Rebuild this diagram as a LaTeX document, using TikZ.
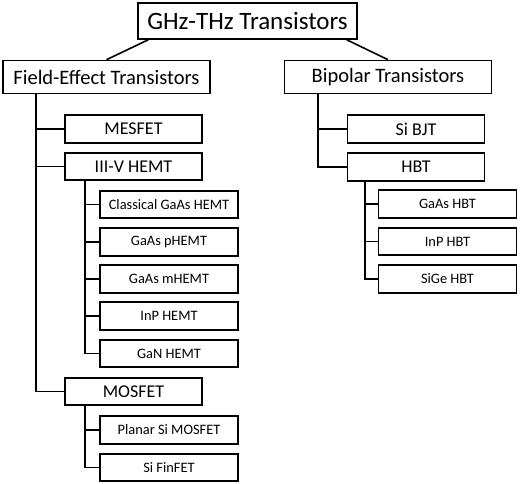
\documentclass[tikz,border=0pt]{standalone}
\usepackage{fontspec}
\setmainfont{Carlito}
\usetikzlibrary{calc}
\begin{document}
\begin{tikzpicture}[x=1pt,y=-1pt,
  box/.style={draw,line width=1.6pt,rectangle,inner sep=0pt,anchor=center},
  lv0/.style={box,minimum width=219pt,minimum height=36pt,font=\fontsize{25}{28}\selectfont},
  lv1/.style={box,minimum width=207pt,minimum height=33pt,font=\fontsize{20.5}{23}\selectfont},
  lv2/.style={box,minimum width=137pt,minimum height=27.5pt,font=\fontsize{18}{20}\selectfont},
  lv3/.style={box,minimum width=138pt,minimum height=27.5pt,font=\fontsize{14.4}{17}\selectfont},
  conn/.style={line width=1.6pt}]
\useasboundingbox (0,0) rectangle (520,484);
\node[lv0] (top) at (247.5,21) {GHz-THz Transistors};
\node[lv1] (fet) at (106.5,77) {Field-Effect Transistors};
\node[lv1] (bip) at (388,77) {Bipolar Transistors};
\node[lv2] (mesfet) at (133.5,129) {MESFET};
\node[lv2] (iiiv) at (133.5,166.5) {III-V HEMT};
\node[lv3] (classical) at (169,204.5) {Classical GaAs HEMT};
\node[lv3] (phemt) at (169,242) {GaAs pHEMT};
\node[lv3] (mhemt) at (169,279) {GaAs mHEMT};
\node[lv3] (inp) at (169,316) {InP HEMT};
\node[lv3] (gan) at (169,353.5) {GaN HEMT};
\node[lv2] (mosfet) at (133.5,391.5) {MOSFET};
\node[lv3] (planar) at (169,430) {Planar Si MOSFET};
\node[lv3] (finfet) at (169,467.5) {Si FinFET};
\node[lv2] (sibjt) at (416,129) {Si BJT};
\node[lv2] (hbt) at (416,167) {HBT};
\node[lv3] (gaashbt) at (447.5,204) {GaAs HBT};
\node[lv3] (inphbt) at (447.5,241.5) {InP HBT};
\node[lv3] (sigehbt) at (447.5,279) {SiGe HBT};
% top connectors
\draw[conn] ($(top.south west)!0.05!(top.south east)$) -- (fet.north);
\draw[conn] ($(top.south west)!0.95!(top.south east)$) -- (bip.north);
% FET trunk
\draw[conn] ($(fet.south west)+(33.5,0)$) coordinate (ft) |- (mosfet.west);
\draw[conn] (ft |- mesfet.west) -- (mesfet.west);
\draw[conn] (ft |- iiiv.west) -- (iiiv.west);
% III-V trunk
\draw[conn] ($(iiiv.south west)+(21,0)$) coordinate (ht) |- (gan.west);
\foreach \n in {classical,phemt,mhemt,inp}
  \draw[conn] (ht |- \n.west) -- (\n.west);
% MOSFET trunk
\draw[conn] ($(mosfet.south west)+(21,0)$) coordinate (mt) |- (finfet.west);
\draw[conn] (mt |- planar.west) -- (planar.west);
% Bipolar trunk
\draw[conn] ($(bip.south west)+(34,0)$) coordinate (bt) |- (hbt.west);
\draw[conn] (bt |- sibjt.west) -- (sibjt.west);
% HBT trunk
\draw[conn] ($(hbt.south west)+(18,0)$) coordinate (hb) |- (sigehbt.west);
\foreach \n in {gaashbt,inphbt}
  \draw[conn] (hb |- \n.west) -- (\n.west);
\end{tikzpicture}
\end{document}
